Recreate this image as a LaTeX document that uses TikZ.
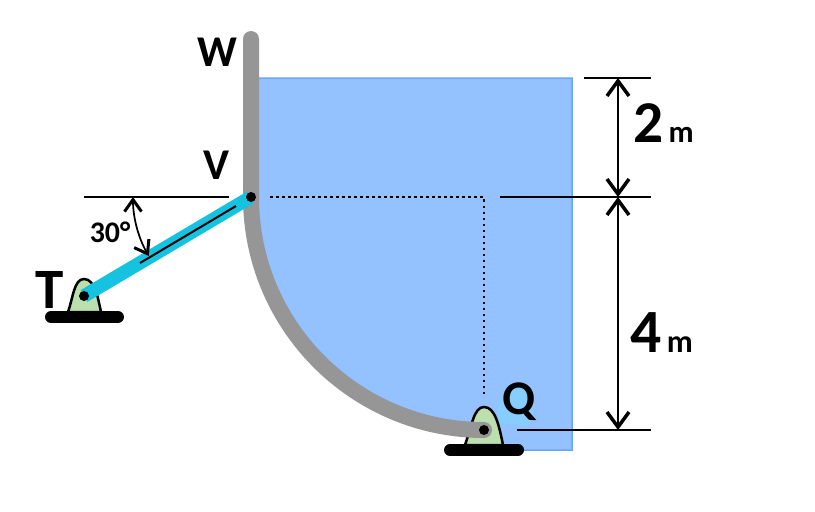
\documentclass[tikz,border=0pt]{standalone}
\usepackage{fontspec}
\setmainfont{Carlito}
\usetikzlibrary{arrows.meta}
\definecolor{waterblue}{HTML}{94C1FF}
\definecolor{wateredge}{HTML}{69A6F7}
\definecolor{waterglow}{HTML}{86CEFF}
\definecolor{wallgray}{HTML}{969696}
\definecolor{linkcyan}{HTML}{15C3E0}
\definecolor{pingreen}{HTML}{BCDFAE}
\tikzset{
  pindot/.style={circle,fill=black,inner sep=0pt,minimum size=0.2cm},
  dimline/.style={line width=0.04cm,black},
  dimarrow/.style={line width=0.04cm,black,{Straight Barb[length=0.3cm,width=0.44cm,line width=0.07cm]}-{Straight Barb[length=0.3cm,width=0.44cm,line width=0.07cm]}},
  wallline/.style={line width=0.32cm,wallgray,line cap=round},
  linkline/.style={line width=0.27cm,linkcyan},
  baseline/.style={line width=0.24cm,black,line cap=round},
  pinbody/.style={fill=pingreen,draw=black,line width=0.05cm},
  handlabel/.style={inner sep=0pt,font=\fontsize{25}{25}\selectfont\bfseries}
}
\begin{document}
\begin{tikzpicture}[x=0.02cm,y=-0.02cm]
\useasboundingbox (0,0) rectangle (815,511);
% points
\coordinate (W) at (251,39);
\node[pindot] (V) at (251,197) {};
\node[pindot] (T) at (84,296) {};
\node[pindot] (Q) at (484,430) {};
\coordinate (dimTop) at (618,78);
\coordinate (dimMid) at (618,197);
\coordinate (dimBot) at (618,430);
\coordinate (corner) at (484,197);
% water
\filldraw[fill=waterblue,draw=wateredge,line width=0.03cm] (251,78) -- (572,78) -- (572,450) -- (496,450) -- (484,430) arc[start angle=90,end angle=180,radius=233] -- cycle;
\fill[wateredge] (243,92) rectangle (251,118);
\fill[waterglow] (500,424) .. controls (494,405) and (502,388) .. (518,385) .. controls (536,392) and (538,415) .. (528,426) -- cycle;
% dimensions
\draw[dimline] (84,197) -- (229,197);
\draw[dimline] (500,197) -- (651,197);
\draw[dimline] (584,78) -- (651,78);
\draw[dimline] (517,430) -- (651,430);
\draw[dimarrow] (dimTop) -- (dimMid);
\draw[dimarrow] (dimMid) -- (dimBot);
\draw[line width=0.05cm,dotted] (270,197) -- (corner) -- (484,396);
% pin Q
\draw[pinbody] (465,445) .. controls (472,425) and (474,407) .. (484,407) .. controls (495,407) and (499,425) .. (503,445) -- cycle;
\draw[baseline] (450,450) -- (518,450);
% gate and strut
\draw[wallline] (W) -- (V.center) arc[start angle=180,end angle=90,radius=233] -- (Q.center);
\draw[pinbody] (68,312) .. controls (73,298) and (74,279) .. (84,279) .. controls (95,279) and (98,298) .. (101,312) -- cycle;
\draw[baseline] (51,317) -- (118,317);
\draw[linkline] (T.center) -- (V.center);
\node[pindot] at (V) {};
\node[pindot] at (T) {};
\node[pindot] at (Q) {};
\draw[dimline] (140,263) -- (236,206);
% angle
\draw[line width=0.035cm,{Straight Barb[length=0.24cm,width=0.34cm,line width=0.06cm]}-{Straight Barb[length=0.24cm,width=0.34cm,line width=0.06cm]}] (133,197) arc[start angle=180,end angle=150,radius=118];
% labels
\node[handlabel] (labelW) at (217,52) {W};
\node[handlabel] (labelV) at (216,165) {V};
\node[handlabel,scale=1.3] (labelT) at (50,290) {T};
\node[handlabel,scale=1.1] (labelQ) at (519,402) {Q};
\node[handlabel,scale=0.68] (label30) at (110,232) {30°};
\node[handlabel,scale=1.35,anchor=base west] (label2) at (633,142) {2{\fontsize{13}{13}\selectfont\,m}};
\node[handlabel,scale=1.4,anchor=base west] (label4) at (630,352) {4{\fontsize{13}{13}\selectfont\,m}};
\end{tikzpicture}
\end{document}
